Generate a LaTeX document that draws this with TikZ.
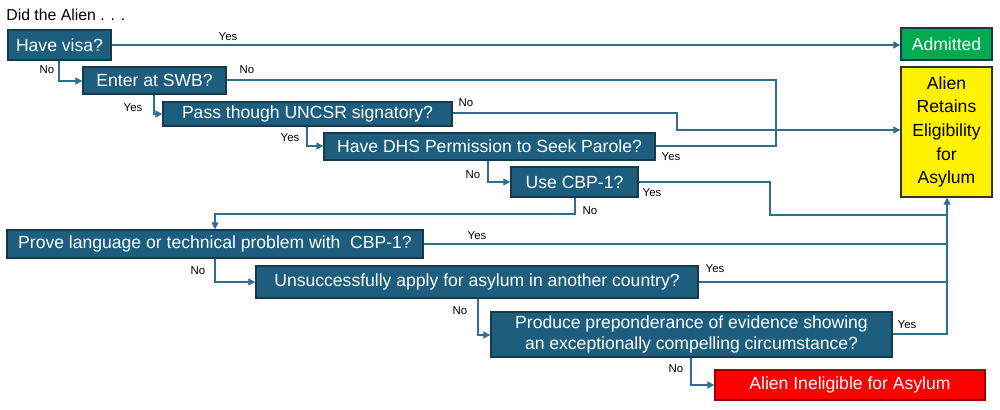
\documentclass[tikz,border=0pt]{standalone}
\usepackage{fontspec}
\setmainfont{Liberation Sans}
\usetikzlibrary{arrows.meta}
\definecolor{boxc}{HTML}{1D5E7E}
\definecolor{boxb}{HTML}{17394C}
\definecolor{linec}{HTML}{2D6F8F}
\tikzset{
 q/.style={draw=boxb,fill=boxc,line width=0.8pt,text=white,font=\fontsize{10}{12}\selectfont,inner sep=0pt,align=center},
 cn/.style={draw=linec,line width=0.8pt},
 ar/.style={cn,-{Triangle[length=4pt,width=4pt]}},
 lb/.style={font=\fontsize{6.5}{7}\selectfont,inner sep=0pt}
}
\newcommand{\bx}[6]{\node[q,#6,minimum width={(#3-#1)*0.02cm},minimum height={(#4-#2)*0.02cm}] (#5) at ({(#1+#3)/2},{(#2+#4)/2})}
\begin{document}
\begin{tikzpicture}[x=0.02cm,y=-0.02cm]
\useasboundingbox (0,0) rectangle (1000,409);
\node[anchor=west,inner sep=0pt,font=\fontsize{9}{11}\selectfont] (title) at (6,15) {Did the Alien . . .};
\bx{8}{30}{111}{60}{visa}{} {Have visa?};
\bx{83}{67}{226}{94}{swb}{} {Enter at SWB?};
\bx{163}{102}{452}{126}{unc}{} {Pass though UNCSR signatory?};
\bx{324}{133}{655}{160}{dhs}{} {Have DHS Permission to Seek Parole?};
\bx{511}{167}{638}{197}{cbp}{} {Use CBP-1?};
\bx{7}{230}{423}{258}{prove}{} {Prove language or technical problem with\ \ CBP-1?};
\bx{256}{266}{698}{298}{uns}{} {Unsuccessfully apply for asylum in another country?};
\bx{491}{312}{892}{357}{prod}{} {Produce preponderance of evidence showing\\an exceptionally compelling circumstance?};
\bx{715}{370}{985}{400}{inel}{fill=red,draw=red!60!black} {Alien Ineligible for Asylum};
\bx{901}{28}{992}{60}{adm}{fill={rgb,255:red,0;green,170;blue,80},draw=boxb} {Admitted};
\bx{901}{67}{992}{197}{ret}{fill=yellow,draw=black!80,text=black,font=\fontsize{10}{13.5}\selectfont} {Alien\\Retains\\Eligibility\\for\\Asylum};
% connectors
\draw[ar] (visa.east) -- (adm.west|-visa.east);
\node[lb] at (228,37) {Yes};
\draw[ar] (visa.south-|59,0) |- (swb.west|-0,81);
\node[lb] at (47,70) {No};
\coordinate (m1) at (776,80);
\draw[cn] (swb.east|-0,80) -- (m1) |- (dhs.east|-0,146);
\node[lb] at (247,70) {No}; \node[lb] at (671,157) {Yes};
\draw[ar] (unc.east|-0,113) -| (677,130) -- (ret.west|-0,130);
\node[lb] at (466,103) {No};
\draw[ar] (swb.south-|154,0) |- (unc.west|-0,114);
\node[lb] at (133,108) {Yes};
\draw[ar] (unc.south-|307,0) |- (dhs.west|-0,146);
\node[lb] at (290,138) {Yes};
\draw[ar] (dhs.south-|488,0) |- (cbp.west|-0,182);
\node[lb] at (473,175) {No};
\coordinate (jn) at (947,215);
\draw[cn] (cbp.east|-0,182) -| (770,215) -- (jn);
\node[lb] at (652,193) {Yes};
\draw[ar] (cbp.south-|575,0) |- (215,214) -- (prove.north-|215,0);
\node[lb] at (590,211) {No};
\draw[cn] (prove.east|-0,244) -- (947,244);
\node[lb] at (477,236) {Yes};
\draw[ar] (prove.south-|215,0) |- (uns.west|-0,282);
\node[lb] at (198,271) {No};
\draw[cn] (uns.east|-0,282) -- (947,282);
\node[lb] at (715,269) {Yes};
\draw[ar] (uns.south-|478,0) |- (prod.west|-0,335);
\node[lb] at (460,311) {No};
\draw[ar] (prod.east|-0,334) -| (ret.south-|947,0);
\node[lb] at (907,325) {Yes};
\draw[ar] (prod.south-|691,0) |- (inel.west|-0,385);
\node[lb] at (676,369) {No};
\end{tikzpicture}
\end{document}
